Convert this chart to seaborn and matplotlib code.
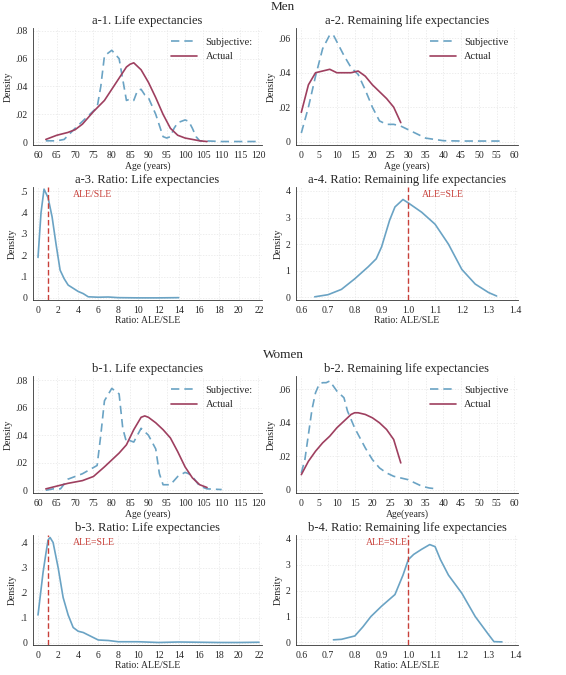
import matplotlib
matplotlib.use("Agg")
import matplotlib.pyplot as plt
import seaborn as sns
import numpy as np

sns.set_style("white")
plt.rcParams['font.family'] = ['Liberation Serif', 'DejaVu Serif']

BLUE = "#6aa3c4"; RED = "#9e3f5f"; VL = "#c8403a"

a1s_x = [62,65,67,70,72,74,76,77,78,80,82,83,84,85,86,87,88,89,90,92,94,95,96,97,98,100,101,102,103,104,105,110,115,120]
a1s_y = [.001,.001,.002,.010,.015,.020,.025,.040,.062,.066,.060,.045,.030,.031,.030,.037,.038,.034,.032,.020,.004,.003,.004,.010,.014,.016,.015,.010,.004,.001,.001,.0005,.0005,.0005]
a1a_x = [62,65,68,70,72,75,78,80,82,84,85,86,88,90,92,94,96,98,100,102,104,106]
a1a_y = [.002,.005,.007,.009,.013,.022,.030,.038,.046,.054,.056,.057,.052,.043,.032,.020,.010,.005,.003,.002,.001,.0005]
a2s_x = [0,2,4,6,8,9,10,12,14,16,18,20,22,24,26,28,30,32,35,40,45,50,56]
a2s_y = [.005,.020,.038,.054,.062,.062,.058,.050,.043,.039,.030,.020,.012,.010,.010,.009,.007,.005,.002,.0005,.0003,.0003,.0003]
a2a_x = [0,2,4,6,8,10,12,14,16,18,20,22,24,26,28]
a2a_y = [.017,.033,.040,.041,.042,.040,.040,.040,.041,.038,.033,.029,.025,.020,.011]
a3_x = [0,0.3,0.6,1,1.4,1.8,2.2,2.6,3,3.5,4,4.5,5,6,7,8,10,12,14]
a3_y = [.19,.40,.51,.47,.38,.25,.13,.09,.06,.045,.03,.02,.005,.003,.004,.001,0,0,0.001]
a4_x = [0.65,0.7,0.75,0.8,0.85,0.88,0.9,0.93,0.95,0.98,1.0,1.05,1.1,1.15,1.2,1.25,1.3,1.33]
a4_y = [0.02,0.1,0.3,0.7,1.15,1.45,1.9,2.9,3.4,3.68,3.55,3.2,2.75,2.0,1.05,0.5,0.18,0.05]
b1s_x = [62,64,66,68,70,72,74,76,77,78,80,82,83,84,85,86,87,88,90,92,93,94,96,98,100,101,102,104,106,110]
b1s_y = [0,.001,.001,.008,.010,.012,.015,.018,.040,.065,.074,.070,.045,.035,.036,.035,.040,.045,.040,.030,.012,.004,.004,.010,.013,.012,.010,.003,.001,.0005]
b1a_x = [62,65,68,70,72,75,78,80,82,84,86,88,89,90,92,94,96,98,100,102,104,106]
b1a_y = [.001,.003,.005,.006,.007,.010,.017,.022,.027,.033,.044,.053,.054,.053,.049,.044,.038,.028,.017,.009,.004,.002]
b2s_x = [0,1,2,3,4,5,6,7,8,10,12,13,14,15,16,18,20,22,24,26,28,30,32,34,36,38]
b2s_y = [.01,.018,.033,.048,.058,.063,.064,.064,.065,.059,.055,.047,.042,.037,.033,.025,.018,.013,.010,.008,.007,.006,.004,.002,.001,.0005]
b2a_x = [0,2,4,6,8,10,12,14,15,16,18,20,22,24,26,28]
b2a_y = [.009,.017,.023,.028,.032,.037,.041,.045,.046,.046,.045,.043,.040,.036,.030,.016]
b3_x = [0,0.5,0.8,1,1.2,1.5,2,2.5,3,3.5,4,4.5,5,6,7,8,10,12,14,16,18,20,22]
b3_y = [.11,.28,.36,.41,.42,.40,.30,.18,.11,.06,.045,.04,.03,.01,.008,.003,.003,0,.002,.001,0,0,0.001]
b4_x = [.72,.75,.8,.83,.86,.9,.95,.98,1.0,1.02,1.05,1.08,1.1,1.12,1.15,1.2,1.25,1.3,1.32,1.35]
b4_y = [.1,.12,.25,.6,1.0,1.4,1.85,2.6,3.2,3.4,3.6,3.78,3.7,3.2,2.6,1.9,1.0,0.3,.03,.02]

W, H = 566, 675
fig = plt.figure(figsize=(W/100, H/100), dpi=100)

def ax_at(x0, y0, x1, y1):
    return fig.add_axes([x0/W, 1-y1/H, (x1-x0)/W, (y1-y0)/H])

def fmt(v):
    s = f"{v:g}"
    return s[1:] if s.startswith("0.") else s

def style(ax, title, xlabel, xt, yt, xfmt=None):
    ax.set_title(title, fontsize=9, pad=3)
    ax.set_xlabel(xlabel, fontsize=7, labelpad=1)
    ax.set_ylabel("Density", fontsize=7, labelpad=2)
    ax.set_xticks(xt)
    ax.set_xticklabels([xfmt(v) if xfmt else f"{v:g}" for v in xt], fontsize=7)
    ax.set_yticks(yt)
    ax.set_yticklabels([fmt(v) for v in yt], fontsize=7)
    ax.grid(True, color="#e6e6e6", lw=0.5, ls=(0, (2, 2)))
    for s in ["top", "right"]:
        ax.spines[s].set_visible(False)
    for s in ["left", "bottom"]:
        ax.spines[s].set_color("#333333"); ax.spines[s].set_linewidth(0.6)
    ax.tick_params(length=3, width=0.6, pad=1)
    ax.tick_params(axis="y", rotation=0)

def life(ax, sx, sy, axx, ayy, title, xlabel, xt, yt, xlim, ylim, sublab):
    sns.lineplot(x=sx, y=sy, ax=ax, color=BLUE, lw=1.2, ls=(0, (5, 3)), label=sublab)
    sns.lineplot(x=axx, y=ayy, ax=ax, color=RED, lw=1.2, label="Actual")
    ax.set_xlim(*xlim); ax.set_ylim(*ylim)
    style(ax, title, xlabel, xt, yt)
    leg = ax.legend(loc="upper right", frameon=False, fontsize=7.5, handlelength=2.5)

def ratio(ax, x, y, title, xt, yt, xlim, ylim, lab, labx, xfmt=None):
    sns.lineplot(x=x, y=y, ax=ax, color=BLUE, lw=1.2)
    ax.axvline(1, color=VL, ls=(0, (4, 2)), lw=1)
    ax.set_xlim(*xlim); ax.set_ylim(*ylim)
    ax.text(labx, ylim[1]*0.93, lab, color=VL, fontsize=7, va="center")
    style(ax, title, "Ratio: ALE/SLE", xt, yt, xfmt)

fig.text(0.5, 1-7/H, "Men", ha="center", va="center", fontsize=9.5)
fig.text(0.5, 1-355/H, "Women", ha="center", va="center", fontsize=9.5)

ax = ax_at(33, 28, 262, 145)
life(ax, a1s_x, a1s_y, a1a_x, a1a_y, "a-1. Life expectancies", "Age (years)",
     range(60, 121, 5), [0, .02, .04, .06, .08], (58.5, 121), (-0.002, 0.082), "Subjective:")
ax = ax_at(296, 28, 518, 145)
life(ax, a2s_x, a2s_y, a2a_x, a2a_y, "a-2. Remaining life expectancies", "Age (years)",
     range(0, 61, 5), [0, .02, .04, .06], (-1.5, 61), (-0.002, 0.066), "Subjective")
ax = ax_at(33, 187, 262, 300)
ratio(ax, a3_x, a3_y, "a-3. Ratio: Life expectancies", range(0, 23, 2),
      [0, .1, .2, .3, .4, .5], (-0.5, 22.3), (-0.01, 0.52), "ALE/SLE", 3.5)
ax = ax_at(296, 187, 518, 300)
ratio(ax, a4_x, a4_y, "a-4. Ratio: Remaining life expectancies", np.round(np.arange(0.6, 1.41, 0.1), 1),
      [0, 1, 2, 3, 4], (0.58, 1.41), (-0.1, 4.15), "ALE=SLE", 1.05, lambda v: f"{v:.1f}")

ax = ax_at(33, 376, 262, 493)
life(ax, b1s_x, b1s_y, b1a_x, b1a_y, "b-1. Life expectancies", "Age (years)",
     range(60, 121, 5), [0, .02, .04, .06, .08], (58.5, 121), (-0.002, 0.083), "Subjective:")
ax = ax_at(296, 376, 518, 493)
life(ax, b2s_x, b2s_y, b2a_x, b2a_y, "b-2. Remaining life expectancies", "Age(years)",
     range(0, 61, 5), [0, .02, .04, .06], (-1.5, 61), (-0.002, 0.068), "Subjective")
ax = ax_at(33, 535, 262, 645)
ratio(ax, b3_x, b3_y, "b-3. Ratio: Life expectancies", range(0, 23, 2),
      [0, .1, .2, .3, .4], (-0.5, 22.3), (-0.01, 0.43), "ALE=SLE", 3.5)
ax = ax_at(296, 535, 518, 645)
ratio(ax, b4_x, b4_y, "b-4. Ratio: Remaining life expectancies", np.round(np.arange(0.6, 1.41, 0.1), 1),
      [0, 1, 2, 3, 4], (0.58, 1.41), (-0.1, 4.15), "ALE=SLE", 0.84, lambda v: f"{v:.1f}")

fig.savefig("out.png", dpi=100, facecolor="white")
